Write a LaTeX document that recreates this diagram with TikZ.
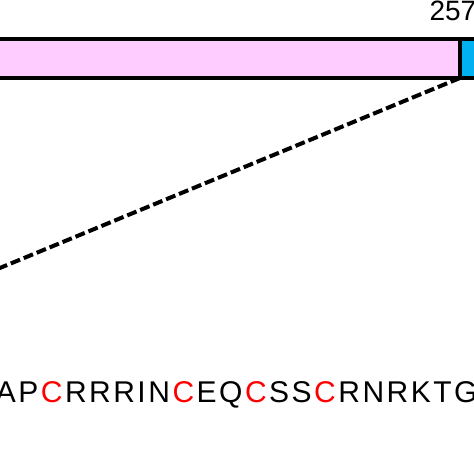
\documentclass[tikz,border=0pt]{standalone}
\usepackage{fontspec}
\setmainfont{Liberation Sans}
\usepackage{tikz}
\usetikzlibrary{positioning}
\definecolor{domainpink}{RGB}{255,204,255}
\definecolor{domainblue}{RGB}{0,176,240}
\newcommand{\rc}[1]{\textcolor{red}{#1}}
\newcommand{\tr}{\kern2.5pt}

\begin{document}
\begin{tikzpicture}[x=1pt,y=1pt,
  domainbox/.style={draw,line width=4pt,inner sep=0pt,outer sep=0pt,minimum height=39pt},
  zoomline/.style={line width=4pt,dash pattern=on 10pt off 4pt}]
  \useasboundingbox (0,0) rectangle (474,474);
  \clip (0,0) rectangle (474,474);
  \node[domainbox,fill=domainpink,minimum width=470pt,anchor=west] (body) at (-10,415.5) {};
  \node[domainbox,fill=domainblue,minimum width=30pt,right=0pt of body] (tail) {};
  \node[anchor=base west,font=\fontsize{28}{30}\selectfont] (pos) at (426,453) {257};
  \coordinate (seqstart) at (-5,204);
  \draw[zoomline] (tail.south west) -- (seqstart);
  \node[anchor=base west,font=\fontsize{30}{32}\selectfont] (seq) at (-7.7,71)
    {A\tr P\tr\rc{C}\tr R\tr R\tr R\tr I\tr N\tr\rc{C}\tr E\tr Q\tr\rc{C}\tr S\tr S\tr\rc{C}\tr R\tr N\tr R\tr K\tr T\tr G};
\end{tikzpicture}
\end{document}
